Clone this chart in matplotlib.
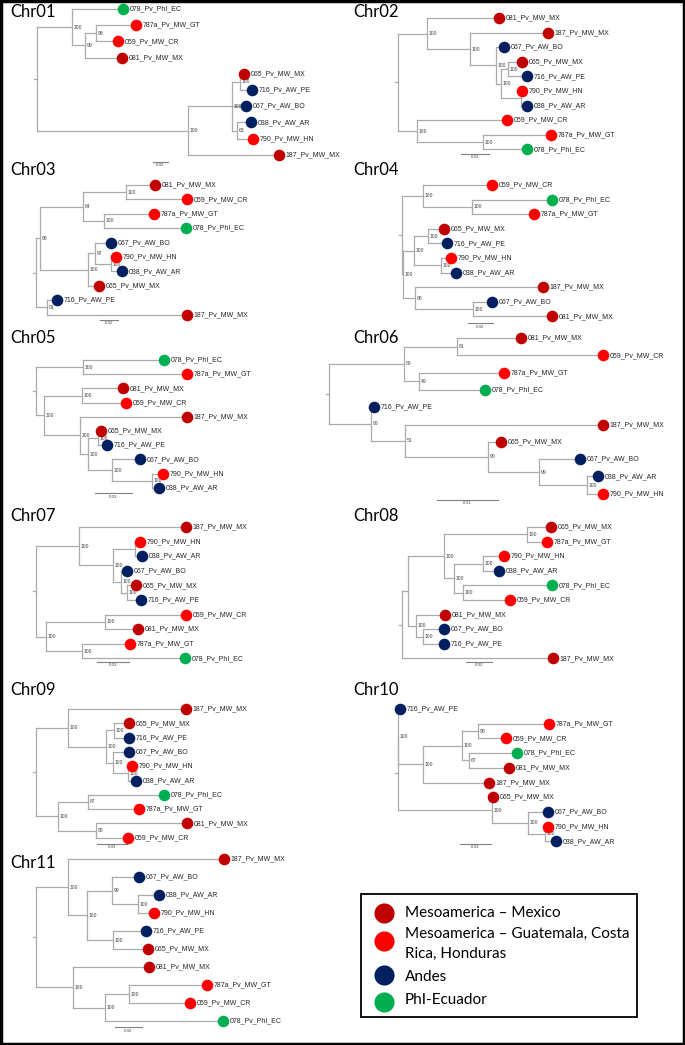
import matplotlib
matplotlib.use("Agg")
import matplotlib.pyplot as plt
from matplotlib.patches import Rectangle

# isolate code -> tip label and region
ISOLATES = ["078", "787a", "059", "081", "065", "716", "067", "038", "790", "187"]
TIP_LABELS = ["078_Pv_PhI_EC", "787a_Pv_MW_GT", "059_Pv_MW_CR", "081_Pv_MW_MX",
              "065_Pv_MW_MX", "716_Pv_AW_PE", "067_Pv_AW_BO", "038_Pv_AW_AR",
              "790_Pv_MW_HN", "187_Pv_MW_MX"]
TIP_REGION = ["ec", "mw", "mw", "mx", "mx", "aw", "aw", "aw", "mw", "mx"]

REGION_COLORS = {"mx": "#C00000", "mw": "#FF0000", "aw": "#002060", "ec": "#00B050"}
LEGEND_REGIONS = ["mx", "mw", "aw", "ec"]
LEGEND_LABELS = ["Mesoamerica \u2013 Mexico",
                 "Mesoamerica \u2013 Guatemala, Costa\nRica, Honduras",
                 "Andes", "PhI-Ecuador"]

# trees: leaf = (depth, isolate), node = (depth, support, [children])
CHR01 = (0, None, [
    (35, "100", [(86, "078"), (48, "99", [(59, "98", [(99, "787a"), (81, "059")]), (85, "081")])]),
    (151, "100", [(195, "100", [(203, "100", [(207, "065"), (215, "716")]), (209, "067"),
                                (200, "63", [(214, "038"), (216, "790")])]), (242, "187")]),
])
CHR02 = (0, None, [
    (29, "100", [(101, "081"), (72, "100", [(150, "187"), (98, "100", [
        (106, "067"), (103, "100", [(110, "100", [(124, "065"), (129, "716")]),
                                    (123, None, [(124, "790"), (129, "038")])])])])]),
    (19, "100", [(109, "059"), (85, "100", [(153, "787a"), (129, "078")])]),
])
CHR03 = (0, None, [
    (4, "98", [(47, "64", [(90, "100", [(119, "081"), (151, "059")]),
                           (68, "100", [(118, "787a"), (150, "078")])]),
               (52, "100", [(59, "97", [(75, "067"), (75, "100", [(80, "790"), (86, "038")])]),
                            (63, "065")])]),
    (11, "91", [(21, "716"), (151, "187")]),
])
CHR04 = (0, None, [
    (21, "100", [(90, "059"), (70, "100", [(150, "078"), (132, "787a")])]),
    (1, "100", [(12, "100", [(26, "100", [(42, "065"), (45, "716")]),
                             (39, "100", [(49, "790"), (54, "038")])]),
                (13, "98", [(141, "187"), (71, "100", [(90, "067"), (150, "081")])])]),
])
CHR05 = (0, None, [
    (47, "100", [(128, "078"), (151, "787a")]),
    (8, "100", [(46, "100", [(87, "081"), (90, "059")]),
                (44, "100", [(151, "187"), (52, "100", [
                    (62, "100", [(65, "065"), (71, "716")]),
                    (76, "100", [(104, "067"), (116, "100", [(127, "790"), (123, "038")])])])])]),
])
CHR06 = (0, None, [
    (75, "96", [(128, "81", [(192, "081"), (274, "059")]),
                (90, "49", [(175, "787a"), (156, "078")])]),
    (42, "96", [(45, "716"), (76, "51", [(274, "187"), (159, "90", [
        (172, "065"), (210, "99", [(251, "067"), (258, "100", [(269, "038"), (274, "790")])])])])]),
])
CHR07 = (0, None, [
    (43, "100", [(150, "187"), (77, "100", [(99, None, [(104, "790"), (106, "038")]),
                                            (85, "100", [(91, "067"), (91, "100", [(100, "065"), (105, "716")])])])]),
    (10, "100", [(69, "100", [(150, "059"), (102, "081")]),
                 (46, "100", [(94, "787a"), (149, "078")])]),
])
CHR08 = (0, None, [
    (6, None, [(42, "100", [(125, "100", [(149, "065"), (145, "787a")]),
                            (52, "100", [(81, "100", [(102, "790"), (97, "038")]),
                                         (61, "100", [(150, "078"), (108, "059")])])]),
               (14, "100", [(43, "081"), (21, "100", [(42, "067"), (42, "716")])])]),
    (151, "187"),
])
CHR09 = (0, None, [
    (32, "100", [(150, "187"), (70, "100", [(78, "100", [(93, "065"), (93, "716")]),
                                            (77, "100", [(93, "067"), (92, "100", [(96, "790"), (100, "038")])])])]),
    (22, "100", [(52, "87", [(128, "078"), (103, "787a")]),
                 (60, "95", [(151, "081"), (92, "059")])]),
])
CHR10 = (0, None, [
    (0, "100", [(2, "716"), (25, "100", [(64, "100", [(80, "98", [(151, "787a"), (108, "059")]),
                                                      (71, "67", [(119, "078"), (111, "081")])]),
                                         (91, "187")])]),
    (94, "100", [(95, "065"), (130, "100", [(150, "067"), (147, "100", [(150, "790"), (158, "038")])])]),
])
CHR11 = (0, None, [
    (32, "100", [(188, "187"), (51, "100", [(76, "99", [(103, "067"), (102, "100", [(123, "038"), (118, "790")])]),
                                            (77, "100", [(110, "716"), (112, "065")])])]),
    (37, "100", [(113, "081"), (69, "100", [(93, "100", [(171, "787a"), (154, "059")]), (187, "078")])]),
])

TREES = [CHR01, CHR02, CHR03, CHR04, CHR05, CHR06, CHR07, CHR08, CHR09, CHR10, CHR11]
TITLES = ["Chr01", "Chr02", "Chr03", "Chr04", "Chr05", "Chr06",
          "Chr07", "Chr08", "Chr09", "Chr10", "Chr11"]
SCALE_LABELS = ["0.02", "0.03", "0.02", "0.02", "0.03", "0.01",
                "0.03", "0.02", "0.03", "0.03", "0.02"]

# layout (pixels): root x, first tip y, tip spacing, title x/y, scale bar x0/len/y
ROOT_X = [37, 398, 36, 402, 36, 329, 36, 402, 36, 398, 36]
TOP_Y = [9, 18, 185, 185, 360, 338, 527, 527, 709, 709, 859]
STEP = [16.2, 14.6, 14.4, 14.6, 14.2, 17.3, 14.6, 14.6, 14.3, 14.7, 18.0]
TITLE_X = [10, 353] * 6
TITLE_Y = [12, 12, 170, 170, 338, 338, 516, 516, 690, 690, 863]
BAR_X = [153, 461, 100, 468, 95, 437, 97, 466, 97, 460, 115]
BAR_LEN = [15, 28, 18, 25, 37, 61, 32, 26, 30, 31, 27]
BAR_Y = [162, 154, 320, 323, 493, 500, 662, 662, 844, 844, 1027]

LINE_COLOR = "#ababab"
TIP_FONT = "Liberation Sans"

fig = plt.figure(figsize=(6.85, 10.45), dpi=100)
ax = fig.add_axes([0, 0, 1, 1])
ax.set_xlim(0, 685)
ax.set_ylim(1045, 0)
ax.axis("off")


def draw_node(node, parent_x, root_x, tips):
    if len(node) == 2:
        depth, code = node
        x = root_x + depth
        y = tips.pop(0)
        ax.plot([parent_x, x], [y, y], color=LINE_COLOR, lw=0.9, zorder=1)
        i = ISOLATES.index(code)
        ax.scatter([x], [y], s=70, color=REGION_COLORS[TIP_REGION[i]], zorder=3, linewidths=0)
        ax.text(x + 6.8, y, TIP_LABELS[i], fontsize=5, family=TIP_FONT,
                color="#262626", va="center", ha="left", zorder=4)
        return y
    depth, support, children = node
    x = root_x + depth
    ys = [draw_node(c, x, root_x, tips) for c in children]
    ax.plot([x, x], [min(ys), max(ys)], color=LINE_COLOR, lw=0.9, zorder=1)
    mid = (ys[0] + ys[-1]) / 2
    ax.plot([parent_x, x], [mid, mid], color=LINE_COLOR, lw=0.9, zorder=1)
    if support:
        ax.text(x + 2, mid, support, fontsize=3.6, family=TIP_FONT,
                color="#404040", va="center", ha="left", zorder=2)
    return mid


for k, tree in enumerate(TREES):
    tips = [TOP_Y[k] + STEP[k] * j for j in range(10)]
    draw_node(tree, ROOT_X[k] - 3, ROOT_X[k], tips)
    ax.text(TITLE_X[k], TITLE_Y[k], TITLES[k], fontsize=12, family="Lato",
            va="center", ha="left", color="black")
    ax.plot([BAR_X[k], BAR_X[k] + BAR_LEN[k]], [BAR_Y[k], BAR_Y[k]],
            color="#808080", lw=0.8)
    ax.text(BAR_X[k] + BAR_LEN[k] / 2, BAR_Y[k] + 1.5, SCALE_LABELS[k], fontsize=3.2,
            family=TIP_FONT, color="#404040", ha="center", va="top")

# legend
ax.add_patch(Rectangle((361, 894), 276, 123, fill=False, edgecolor="black", lw=1.3, zorder=5))
LEG_Y = [913, 941, 975, 1002]
LEG_TEXT_Y = [913, 944, 977, 1000]
for r, lab, y, ty in zip(LEGEND_REGIONS, LEGEND_LABELS, LEG_Y, LEG_TEXT_Y):
    ax.scatter([384], [y], s=210, color=REGION_COLORS[r], linewidths=0, zorder=6)
    ax.text(405, ty, lab, fontsize=11, family="Lato", va="center", ha="left",
            color="black", linespacing=1.5, zorder=6)

# outer frame
ax.add_patch(Rectangle((1, 1), 683, 1043, fill=False, edgecolor="black", lw=2.5, zorder=7))

fig.savefig("out.png", dpi=100)
